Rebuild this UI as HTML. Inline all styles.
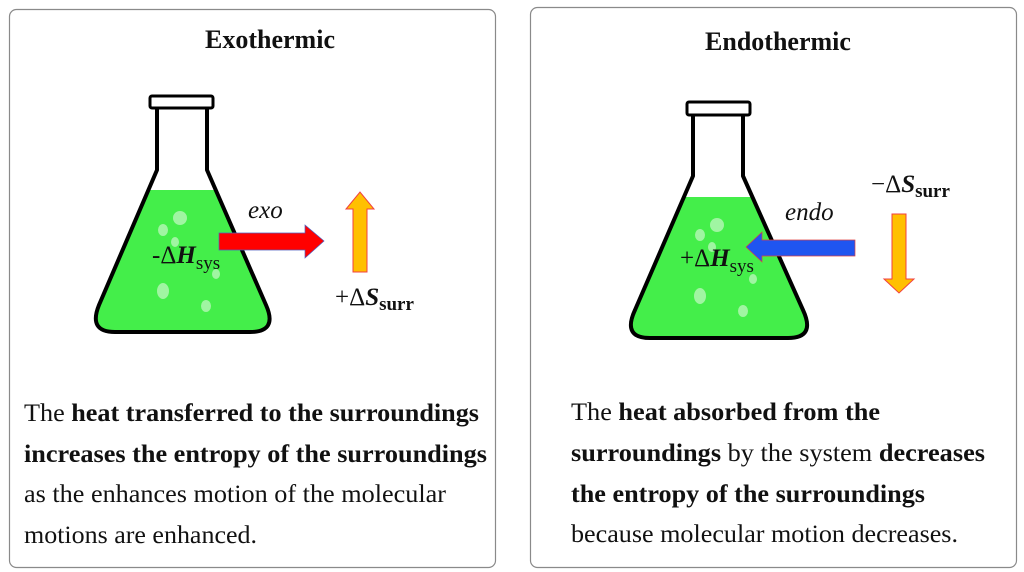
<!DOCTYPE html>
<html><head><meta charset="utf-8"><style>
html,body{margin:0;padding:0;background:#fff;}
svg{display:block;}
text{font-family:"Liberation Serif",serif;fill:#111;}
</style></head><body>
<svg width="1024" height="572" viewBox="0 0 1024 572" xmlns="http://www.w3.org/2000/svg">
<rect x="9.5" y="9.5" width="486" height="558" rx="7" fill="none" stroke="#8a8a8a" stroke-width="1.2"/>
<rect x="530.5" y="7.5" width="486" height="560" rx="7" fill="none" stroke="#8a8a8a" stroke-width="1.2"/>

<text x="270" y="48" font-size="26" font-weight="bold" text-anchor="middle">Exothermic</text>
<text x="778" y="50" font-size="26" font-weight="bold" text-anchor="middle">Endothermic</text>

<!-- Left flask -->
<path d="M148 190 L216 190 L266 305 Q278 332 250 332 L115 332 Q88 332 99 305 Z" fill="#44ee4a"/>
<path d="M157 108 L157 170 L99 305 Q88 332 115 332 L250 332 Q278 332 266 305 L207 170 L207 108" fill="none" stroke="#000" stroke-width="4" stroke-linejoin="round"/>
<rect x="150" y="96" width="63" height="12" rx="2" fill="#fff" stroke="#000" stroke-width="3"/>
<g fill="#b8f7b8" opacity="0.8">
<ellipse cx="180" cy="218" rx="7" ry="7"/><ellipse cx="163" cy="230" rx="5" ry="6"/><ellipse cx="175" cy="242" rx="4" ry="5"/>
<ellipse cx="216" cy="274" rx="4" ry="5"/><ellipse cx="163" cy="291" rx="6" ry="8"/><ellipse cx="206" cy="306" rx="5" ry="6"/>
</g>
<text x="152" y="263" font-size="25">-Δ<tspan font-weight="bold" font-style="italic">H</tspan><tspan font-size="19" dy="6">sys</tspan></text>
<text x="248" y="218" font-size="25" font-style="italic">exo</text>
<polygon points="219,233 305,233 305,225 324,241 305,258 305,250 219,250" fill="#f00" stroke="#5060c0" stroke-width="0.7"/>
<polygon points="353,272 353,209 346,209 360,192 374,209 367,209 367,272" fill="#ffc000" stroke="#f04040" stroke-width="1"/>
<text x="335" y="305" font-size="25">+Δ<tspan font-weight="bold" font-style="italic">S</tspan><tspan font-size="19" font-weight="bold" dy="5">surr</tspan></text>

<!-- Right flask -->
<path d="M684 197 L752 197 L803 310 Q816 338 788 338 L650 338 Q622 338 635 310 Z" fill="#44ee4a"/>
<path d="M693 116 L693 176 L635 310 Q622 338 650 338 L788 338 Q816 338 803 310 L743 176 L743 116" fill="none" stroke="#000" stroke-width="4" stroke-linejoin="round"/>
<rect x="687" y="102" width="63" height="13" rx="2" fill="#fff" stroke="#000" stroke-width="3"/>
<g fill="#b8f7b8" opacity="0.8">
<ellipse cx="717" cy="225" rx="7" ry="7"/><ellipse cx="700" cy="235" rx="5" ry="6"/><ellipse cx="712" cy="247" rx="4" ry="5"/>
<ellipse cx="753" cy="279" rx="4" ry="5"/><ellipse cx="700" cy="296" rx="6" ry="8"/><ellipse cx="743" cy="311" rx="5" ry="6"/>
</g>
<text x="680" y="266" font-size="25">+Δ<tspan font-weight="bold" font-style="italic">H</tspan><tspan font-size="19" dy="6">sys</tspan></text>
<text x="785" y="220" font-size="25" font-style="italic">endo</text>
<polygon points="855,240 762,240 762,232 746,247 762,262 762,256 855,256" fill="#1f55f0" stroke="#e04040" stroke-width="0.7"/>
<polygon points="892,214 906,214 906,279 914,279 899,293 884,279 892,279" fill="#ffc000" stroke="#f04040" stroke-width="1"/>
<text x="871" y="192" font-size="25">−Δ<tspan font-weight="bold" font-style="italic">S</tspan><tspan font-size="19" font-weight="bold" dy="5">surr</tspan></text>

<!-- Text -->
<g font-size="25">
<text x="24" y="421" textLength="455" lengthAdjust="spacingAndGlyphs">The <tspan font-weight="bold">heat transferred to the surroundings</tspan></text>
<text x="24" y="462" textLength="463" lengthAdjust="spacingAndGlyphs" font-weight="bold">increases the entropy of the surroundings</text>
<text x="24" y="502" textLength="422" lengthAdjust="spacingAndGlyphs">as the enhances motion of the molecular</text>
<text x="24" y="543" textLength="233" lengthAdjust="spacingAndGlyphs">motions are enhanced.</text>
<text x="571" y="420" textLength="309" lengthAdjust="spacingAndGlyphs">The <tspan font-weight="bold">heat absorbed from the</tspan></text>
<text x="571" y="461" textLength="414" lengthAdjust="spacingAndGlyphs"><tspan font-weight="bold">surroundings</tspan> by the system <tspan font-weight="bold">decreases</tspan></text>
<text x="571" y="502" textLength="354" lengthAdjust="spacingAndGlyphs" font-weight="bold">the entropy of the surroundings</text>
<text x="571" y="542" textLength="387" lengthAdjust="spacingAndGlyphs">because molecular motion decreases.</text>
</g>
</svg>
</body></html>
